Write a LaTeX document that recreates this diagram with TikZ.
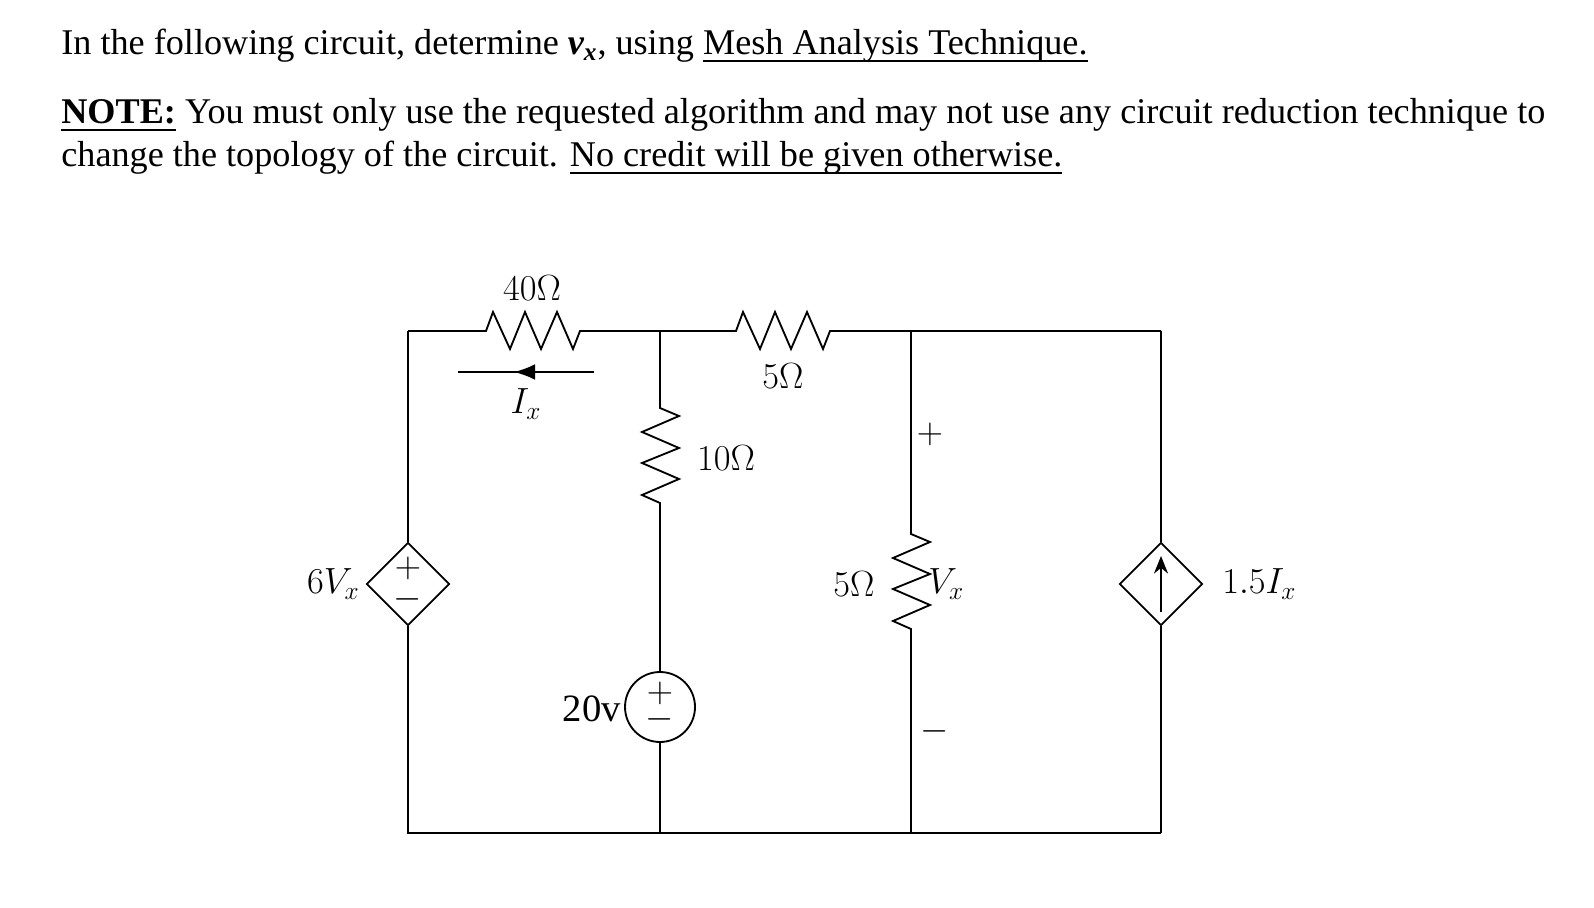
\documentclass[tikz,border=0pt]{standalone}
\usepackage{amsmath,amssymb}
\usepackage{fontspec}
\setmainfont{Liberation Serif}
\usetikzlibrary{shapes.geometric,arrows.meta}

% zigzag resistors, drawn from the current point of a path
\newcommand{\reshor}{ -- ++(7,-19) -- ++(17,37) -- ++(15,-37) -- ++(16,37) -- ++(16,-37) -- ++(16,37) -- ++(7,-18)}
\newcommand{\resver}{ -- ++(19,8) -- ++(-37,16) -- ++(37,16) -- ++(-37,15) -- ++(37,16) -- ++(-37,16) -- ++(18,8)}
% underline at a fixed depth
\newcommand{\uln}[1]{\setbox0\hbox{#1}\rlap{\rule[-4pt]{\wd0}{1pt}}#1}

\tikzset{
	wire/.style = {line width=1.05pt},
	depsrc/.style = {draw, diamond, line width=1.05pt, minimum width=1.66cm, minimum height=1.66cm, inner sep=0pt, fill=white},
	indsrc/.style = {draw, circle, line width=1.05pt, minimum size=1.4cm, inner sep=0pt},
	lbl/.style = {font=\fontsize{22}{25}\selectfont, inner sep=0pt},
	sgn/.style = {font=\fontsize{20}{22}\selectfont, inner sep=0pt},
	txt/.style = {font=\fontsize{20.6}{24}\selectfont, anchor=west, inner sep=0pt}
}

\begin{document}
\begin{tikzpicture}[x=0.02cm, y=-0.02cm]
	\useasboundingbox (0,0) rectangle (1594,908);

	% statement
	\node[txt] (l1) at (61,46) {In the following circuit, determine \textbf{\textit{v\textsubscript{x}}}, using \uln{Mesh Analysis Technique.}};
	\node[txt] (l2) at (61,115) {\uln{\textbf{NOTE:}} You must only use the requested algorithm and may not use any circuit reduction technique to};
	\node[txt] (l3) at (61,158) {change the topology of the circuit. \uln{No credit will be given otherwise.}};

	% corners
	\coordinate (tl) at (408,331);
	\coordinate (tm) at (660,331);
	\coordinate (tv) at (911,331);
	\coordinate (tr) at (1161,331);
	\coordinate (bl) at (408,833);
	\coordinate (bm) at (660,833);
	\coordinate (bv) at (911,833);
	\coordinate (br) at (1161,833);

	% sources
	\node[depsrc] (src6) at (408,584) {};
	\node[sgn] at (408,568) {$+$};
	\node[sgn] at (408,599) {$-$};
	\node[lbl, anchor=east] (l6) at (360,584) {$6V_x$};

	\node[indsrc] (v20) at (660,707) {};
	\node[sgn] at (660,693) {$+$};
	\node[sgn] at (660,719) {$-$};
	\node[lbl, anchor=east] (l20) at (621,709) {20v};

	\node[depsrc] (cs) at (1161,584) {};
	\draw[wire, -{Stealth[length=10pt,width=8pt]}] (cs.center) ++(0,28) -- ++(0,-56);
	\node[lbl, anchor=west] (l15) at (1222,584) {$1.5I_x$};

	% wires and resistors
	\draw[wire] (tl) -- (486,331) \reshor -- (736,331) \reshor -- (tr);
	\draw[wire] (tl) -- (src6.north);
	\draw[wire] (src6.south) -- (bl) -- (br);
	\draw[wire] (tm) -- (660,408) \resver -- (v20.north);
	\draw[wire] (v20.south) -- (bm);
	\draw[wire] (tv) -- (911,534) \resver -- (bv);
	\draw[wire] (tr) -- (cs.north);
	\draw[wire] (cs.south) -- (br);

	% labels
	\node[lbl] (r40) at (532,288) {$40\Omega$};
	\node[lbl] (r5a) at (783,376) {$5\Omega$};
	\node[lbl] (r10) at (726,458) {$10\Omega$};
	\node[lbl] (r5b) at (854,584) {$5\Omega$};
	\node[lbl, anchor=west] (vx) at (928,584) {$V_x$};
	\node[sgn] (vp) at (930,434) {$+$};
	\node[sgn] (vm) at (935,731) {$-$};

	% current arrow
	\coordinate (ia) at (594,372);
	\coordinate (ib) at (458,372);
	\draw[wire] (ia) -- (ib);
	\draw[wire, -{Latex[length=12pt,width=9pt]}] (ia) -- (514,372);
	\node[lbl] (ix) at (526,404) {$I_x$};
\end{tikzpicture}
\end{document}
